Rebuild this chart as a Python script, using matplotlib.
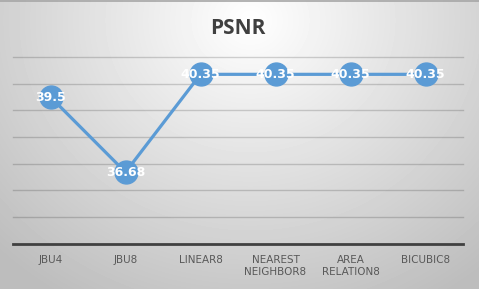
import numpy as np
import matplotlib.pyplot as plt

categories = ['JBU4', 'JBU8', 'LINEAR8', 'NEAREST\nNEIGHBOR8', 'AREA\nRELATION8', 'BICUBIC8']
psnr = [39.5, 36.68, 40.35, 40.35, 40.35, 40.35]
labels = ['39.5', '36.68', '40.35', '40.35', '40.35', '40.35']

W, H = 479, 289
fig = plt.figure(figsize=(W / 100, H / 100), dpi=100)

# radial grey gradient background, whitest near the top middle
bg = fig.add_axes([0, 0, 1, 1])
yy, xx = np.mgrid[0:H, 0:W]
r = np.sqrt(((xx - 250) / 330.0) ** 2 + ((yy - 20) / 300.0) ** 2)
shade = np.clip(1.0 - 0.24 * r, 0.74, 1.0)
bg.imshow(shade, cmap='gray', vmin=0, vmax=1, aspect='auto', extent=[0, W, H, 0])
bg.plot([0, W], [0.5, 0.5], color='#a6a6a6', lw=1.2)
bg.set_xlim(0, W)
bg.set_ylim(H, 0)
bg.axis('off')

ax = fig.add_axes([13 / W, (H - 243.7) / H, 450 / W, (243.7 - 57) / H])
ax.patch.set_alpha(0)
x = np.arange(len(categories))
ax.set_xlim(-0.5, len(categories) - 0.5)
ax.set_ylim(34, 41)
ax.set_yticks(np.arange(35, 42, 1))
ax.yaxis.grid(True, color='black', alpha=0.17, lw=1, clip_on=False)
for gl in ax.get_ygridlines():
    gl.set_clip_on(False)
ax.set_axisbelow(True)
ax.tick_params(axis='y', left=False, labelleft=False)
ax.tick_params(axis='x', length=0, pad=8)
for s in ['top', 'right', 'left']:
    ax.spines[s].set_visible(False)
ax.spines['bottom'].set_color('#404040')
ax.spines['bottom'].set_linewidth(2)

ax.plot(x, psnr, color='#5B9BD5', lw=2.3, marker='o', markersize=16.5,
        markerfacecolor='#5B9BD5', markeredgecolor='#5B9BD5', zorder=3)
for xi, yi, t in zip(x, psnr, labels):
    ax.text(xi, yi, t, ha='center', va='center', color='white', fontsize=9,
            fontweight='bold', family='Liberation Sans Narrow', zorder=4)

ax.set_xticks(x)
ax.set_xticklabels(categories, fontsize=7.5, color='#595959', linespacing=1.25)

fig.text(238 / W, 1 - 28 / H, 'PSNR', ha='center', va='center', fontsize=15,
         fontweight='bold', color='#404040', family='Open Sans')

fig.savefig('out.png', dpi=100)
